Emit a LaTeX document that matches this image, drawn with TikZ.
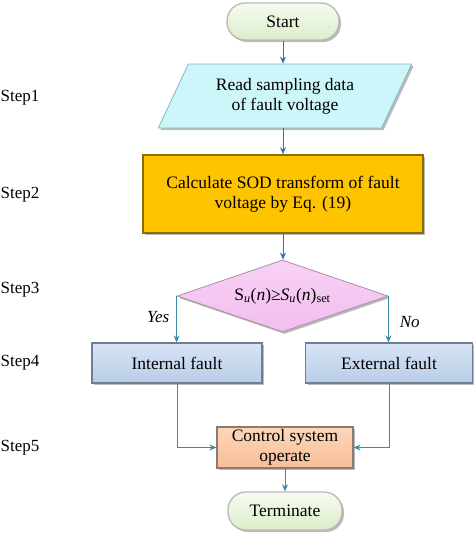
\documentclass[tikz,border=0pt]{standalone}
\usepackage{fontspec}
\setmainfont{Liberation Serif}
\newfontfamily\tms{Liberation Serif}
\usetikzlibrary{shapes.geometric,arrows.meta,shadows}
\definecolor{arrblue}{HTML}{2E75B6}
\definecolor{arrteal}{HTML}{3A8CA6}
\definecolor{termtop}{HTML}{F6FBF0}
\definecolor{termbot}{HTML}{DCEDC9}
\definecolor{paral}{HTML}{CCF6FA}
\definecolor{paraldraw}{HTML}{86B4C4}
\definecolor{gold}{HTML}{FFC400}
\definecolor{golddraw}{HTML}{8A6C00}
\definecolor{pinktop}{HTML}{F8D2F6}
\definecolor{pinkbot}{HTML}{F2BDEE}
\definecolor{pinkdraw}{HTML}{A88FA6}
\definecolor{bluetop}{HTML}{D7E4F4}
\definecolor{bluebot}{HTML}{B9CDE8}
\definecolor{bluedraw}{HTML}{6F7E93}
\definecolor{peachtop}{HTML}{FCD6BA}
\definecolor{peachbot}{HTML}{F7BE98}
\definecolor{peachdraw}{HTML}{8D7A6E}
\tikzset{
  base/.style={font=\tms\fontsize{17.5}{20}\selectfont, align=center, inner sep=2pt},
  shd/.style={drop shadow={shadow xshift=2pt, shadow yshift=-2pt, fill=black!60, opacity=0.45}},
  term/.style={base, rectangle, rounded corners=18pt, top color=termtop, bottom color=termbot, draw=gray!55, line width=1.3pt, shd},
  iobox/.style={base, trapezium, trapezium left angle=61, trapezium right angle=119, trapezium stretches=true, fill=paral, draw=paraldraw, line width=0.8pt, shd},
  calcbox/.style={base, rectangle, fill=gold, draw=golddraw, line width=1.5pt, shd},
  decbox/.style={base, diamond, aspect=2.9, top color=pinktop, bottom color=pinkbot, draw=pinkdraw, line width=0.8pt, shd},
  faultbox/.style={base, rectangle, top color=bluetop, bottom color=bluebot, draw=bluedraw, line width=1.2pt, shd},
  ctrlbox/.style={base, rectangle, top color=peachtop, bottom color=peachbot, draw=peachdraw, line width=1.2pt, shd},
  steplbl/.style={font=\tms\fontsize{17}{20}\selectfont, anchor=west, inner sep=0pt},
  yn/.style={font=\tms\fontsize{17}{20}\selectfont\itshape, inner sep=0pt},
  arr/.style={draw=arrblue, line width=0.9pt, -{Stealth[length=7pt,width=6pt]}},
  arrt/.style={draw=arrteal, line width=0.9pt, -{Stealth[length=7pt,width=6pt]}},
}
\begin{document}
\begin{tikzpicture}[x=1pt,y=-1pt]
\useasboundingbox (0,0) rectangle (474,533);
\node[term, minimum width=112pt, minimum height=37pt] (start) at (283,21.5) {Start};
\node[iobox, minimum width=254pt, minimum height=64pt] (read) at (285,96) {Read sampling data\\of fault voltage};
\node[calcbox, minimum width=280pt, minimum height=78pt] (calc) at (283,194) {Calculate SOD transform of fault\\voltage by Eq. (19)};
\node[decbox, minimum width=211pt, minimum height=72pt] (dec) at (282.5,296) {S\textsubscript{\textit{u}}(\textit{n})≥\textit{S}\textsubscript{\textit{u}}(\textit{n})\textsubscript{set}};
\node[faultbox, minimum width=170pt, minimum height=40pt] (int) at (177,363) {Internal fault};
\node[faultbox, minimum width=167pt, minimum height=40pt] (ext) at (389,363) {External fault};
\node[ctrlbox, minimum width=136pt, minimum height=41pt] (ctrl) at (285,447.5) {Control system\\operate};
\node[term, minimum width=114pt, minimum height=38pt] (end) at (285,511) {Terminate};

\node[steplbl] (s1) at (0.5,98) {Step1};
\node[steplbl] (s2) at (0.5,195) {Step2};
\node[steplbl] (s3) at (0.5,290) {Step3};
\node[steplbl] (s4) at (0.5,363) {Step4};
\node[steplbl] (s5) at (0.5,448) {Step5};

\coordinate (a1) at (283,0);
\draw[arr] (start.south) -- (start.south |- read.north);
\draw[arr] (read.south -| a1) -- (a1 |- calc.north);
\draw[arr] (calc.south -| a1) -- (a1 |- dec.north);
\draw[arrt] (dec.west) -- (dec.west |- int.north) node[yn, pos=0.45, left=7pt] (yes) {Yes};
\draw[arrt] (dec.east) -- (dec.east |- ext.north) node[yn, pos=0.55, right=11pt] (no) {No};
\draw[arrt] (int.south) -- (int.south |- ctrl.west) -- (ctrl.west);
\draw[arrt] (ext.south) -- (ext.south |- ctrl.east) -- (ctrl.east);
\draw[arrt] (ctrl.south) -- (end.north);
\end{tikzpicture}
\end{document}
